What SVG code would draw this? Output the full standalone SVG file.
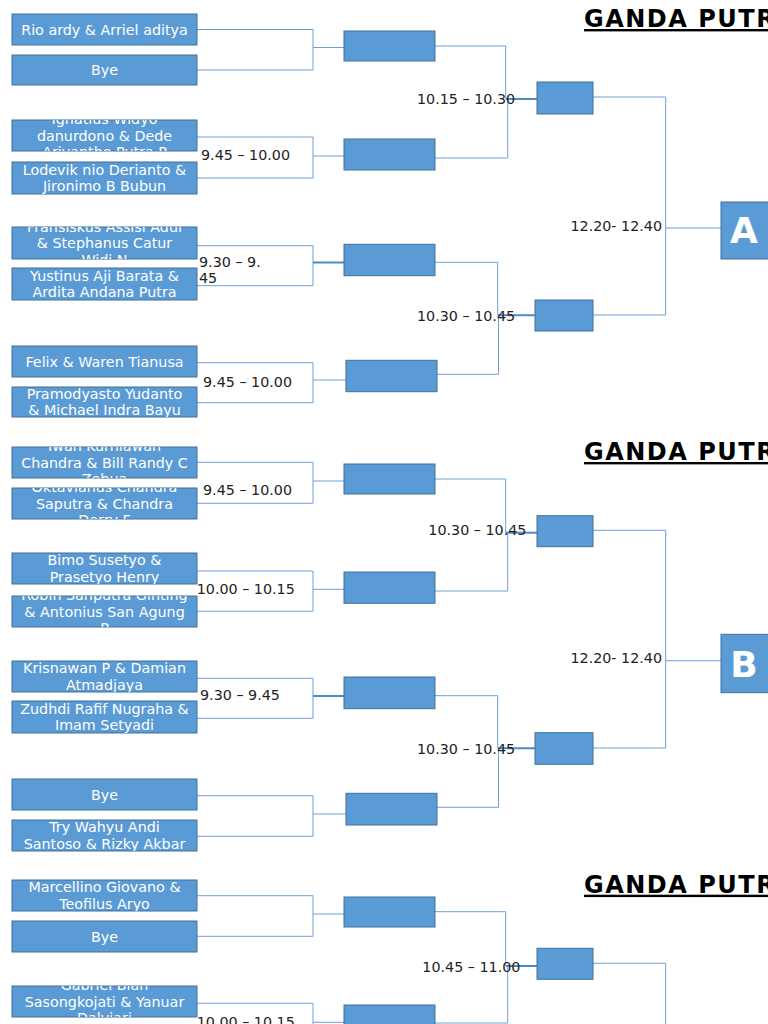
<svg xmlns="http://www.w3.org/2000/svg" width="768" height="1024" viewBox="0 0 768 1024">
<style>
.bg{fill:#ffffff}
.box{fill:#5b9bd5;stroke:#41719c;stroke-width:1}
.nm{font-family:"DejaVu Sans","Liberation Sans",sans-serif;font-size:14.3px;fill:#ffffff;text-anchor:middle}
.lbl{font-family:"DejaVu Sans","Liberation Sans",sans-serif;font-size:14.3px;fill:#222222}
.end{text-anchor:end}
.ttl{font-family:"DejaVu Sans","Liberation Sans",sans-serif;font-size:24px;font-weight:bold;fill:#000000;letter-spacing:1.5px;text-decoration:underline}
.big{font-family:"DejaVu Sans","Liberation Sans",sans-serif;font-size:36px;font-weight:bold;fill:#ffffff;text-anchor:middle}
.ln{fill:none;stroke:#6d9eda;stroke-width:1}
.lnb{fill:none;stroke:#4f88c8;stroke-width:2}
</style>
<defs>
<clipPath id="k1"><rect x="12" y="14" width="185" height="31"/></clipPath>
<clipPath id="k2"><rect x="12" y="55" width="185" height="30"/></clipPath>
<clipPath id="k3"><rect x="12" y="120" width="185" height="31"/></clipPath>
<clipPath id="k4"><rect x="12" y="162" width="185" height="32"/></clipPath>
<clipPath id="k5"><rect x="12" y="227" width="185" height="32"/></clipPath>
<clipPath id="k6"><rect x="12" y="268" width="185" height="32"/></clipPath>
<clipPath id="k7"><rect x="12" y="346" width="185" height="31"/></clipPath>
<clipPath id="k8"><rect x="12" y="387" width="185" height="30"/></clipPath>
<clipPath id="k9"><rect x="12" y="447" width="185" height="31"/></clipPath>
<clipPath id="k10"><rect x="12" y="488" width="185" height="31"/></clipPath>
<clipPath id="k11"><rect x="12" y="553" width="185" height="31"/></clipPath>
<clipPath id="k12"><rect x="12" y="596" width="185" height="31"/></clipPath>
<clipPath id="k13"><rect x="12" y="661" width="185" height="31"/></clipPath>
<clipPath id="k14"><rect x="12" y="701" width="185" height="32"/></clipPath>
<clipPath id="k15"><rect x="12" y="779" width="185" height="31"/></clipPath>
<clipPath id="k16"><rect x="12" y="820" width="185" height="31"/></clipPath>
<clipPath id="k17"><rect x="12" y="880" width="185" height="31"/></clipPath>
<clipPath id="k18"><rect x="12" y="921" width="185" height="31"/></clipPath>
<clipPath id="k19"><rect x="12" y="986" width="185" height="31"/></clipPath>
</defs>
<rect class="bg" x="0" y="0" width="768" height="1024"/>

<g id="connectors">
  <path class="ln" d="M197 29.5 H313 V70 H197 M313 47.5 H344"/>
  <path class="ln" d="M197 137 H313 V178 H197 M313 156 H344"/>
  <path class="ln" d="M197 245.7 H313 V285.7 H197"/>
  <path class="lnb" d="M313 262.5 H344"/>
  <path class="ln" d="M197 362.7 H313 V402.7 H197 M313 380 H346"/>
  <path class="ln" d="M435 46 H505.7 V99 M435 158 H507.7 V99"/>
  <path class="lnb" d="M506 99 H537"/>
  <path class="ln" d="M435 262.3 H497.7 V315 M437 374.3 H498.5 V315"/>
  <path class="lnb" d="M498 315.3 H535"/>
  <path class="ln" d="M593 97 H665.7 V315 H593 M665.7 228 H721"/>
  <path class="ln" d="M197 462.3 H313 V503.3 H197 M313 481 H344"/>
  <path class="ln" d="M197 571 H313 V611.3 H197 M313 589.3 H344"/>
  <path class="ln" d="M197 678.3 H313 V718.3 H197"/>
  <path class="lnb" d="M313 696 H344"/>
  <path class="ln" d="M197 795.7 H313 V836.3 H197 M313 814 H346"/>
  <path class="ln" d="M435 479 H505.7 V532.7 M435 591 H507.7 V532.7"/>
  <path class="lnb" d="M506 532.7 H537"/>
  <path class="ln" d="M435 695.7 H497.7 V748 M437 807.3 H498.5 V748"/>
  <path class="lnb" d="M498 748.3 H535"/>
  <path class="ln" d="M593 530.3 H665.7 V748 H593 M665.7 660.7 H721"/>
  <path class="ln" d="M197 895.7 H313 V936.3 H197 M313 914 H344"/>
  <path class="ln" d="M197 1003.3 H313 V1030 M313 1022.3 H344"/>
  <path class="ln" d="M435 911.7 H505.7 V966 M435 1023 H507.7 V966"/>
  <path class="lnb" d="M506 966 H537"/>
  <path class="ln" d="M593 963.3 H665.7 V1030"/>
</g>

<g id="labels">
  <text class="lbl" x="201" y="160">9.45 – 10.00</text>
  <text class="lbl" x="199" y="266.7">9.30 – 9.</text>
  <text class="lbl" x="199" y="283.3">45</text>
  <text class="lbl" x="203" y="386.7">9.45 – 10.00</text>
  <text class="lbl" x="417" y="104">10.15 – 10.30</text>
  <text class="lbl" x="417" y="321">10.30 – 10.45</text>
  <text class="lbl end" x="662" y="231">12.20- 12.40</text>
  <text class="lbl" x="203" y="495">9.45 – 10.00</text>
  <text class="lbl" x="196.7" y="594">10.00 – 10.15</text>
  <text class="lbl" x="200" y="700">9.30 – 9.45</text>
  <text class="lbl" x="428.3" y="535">10.30 – 10.45</text>
  <text class="lbl" x="417" y="754.3">10.30 – 10.45</text>
  <text class="lbl end" x="662" y="663.3">12.20- 12.40</text>
  <text class="lbl" x="422.3" y="971.7">10.45 – 11.00</text>
  <text class="lbl" x="196.7" y="1027">10.00 – 10.15</text>
</g>

<g id="titles">
  <text class="ttl" x="584" y="27">GANDA PUTRA</text>
  <text class="ttl" x="584" y="460">GANDA PUTRA</text>
  <text class="ttl" x="584" y="892.7">GANDA PUTRA</text>
</g>

<g id="p1"><rect class="box" x="12" y="14" width="185" height="31"/><g clip-path="url(#k1)"><text class="nm" x="104.5" y="34.5">Rio ardy &amp; Arriel aditya</text></g></g>
<g id="p2"><rect class="box" x="12" y="55" width="185" height="30"/><g clip-path="url(#k2)"><text class="nm" x="104.5" y="75">Bye</text></g></g>
<g id="p3"><rect class="box" x="12" y="120" width="185" height="31"/><g clip-path="url(#k3)"><text class="nm" x="104.5" y="124">Ignatius Widyo</text><text class="nm" x="104.5" y="140.5">danurdono &amp; Dede</text><text class="nm" x="104.5" y="157">Ariyantho Putra P</text></g></g>
<g id="p4"><rect class="box" x="12" y="162" width="185" height="32"/><g clip-path="url(#k4)"><text class="nm" x="104.5" y="174.75">Lodevik nio Derianto &amp;</text><text class="nm" x="104.5" y="191.25">Jironimo B Bubun</text></g></g>
<g id="p5"><rect class="box" x="12" y="227" width="185" height="32"/><g clip-path="url(#k5)"><text class="nm" x="104.5" y="231.5">Fransiskus Assisi Adul</text><text class="nm" x="104.5" y="248">&amp; Stephanus Catur</text><text class="nm" x="104.5" y="264.5">Widi N</text></g></g>
<g id="p6"><rect class="box" x="12" y="268" width="185" height="32"/><g clip-path="url(#k6)"><text class="nm" x="104.5" y="280.75">Yustinus Aji Barata &amp;</text><text class="nm" x="104.5" y="297.25">Ardita Andana Putra</text></g></g>
<g id="p7"><rect class="box" x="12" y="346" width="185" height="31"/><g clip-path="url(#k7)"><text class="nm" x="104.5" y="366.5">Felix &amp; Waren Tianusa</text></g></g>
<g id="p8"><rect class="box" x="12" y="387" width="185" height="30"/><g clip-path="url(#k8)"><text class="nm" x="104.5" y="398.75">Pramodyasto Yudanto</text><text class="nm" x="104.5" y="415.25">&amp; Michael Indra Bayu</text></g></g>

<g id="p9"><rect class="box" x="12" y="447" width="185" height="31"/><g clip-path="url(#k9)"><text class="nm" x="104.5" y="451">Iwan Kurniawan</text><text class="nm" x="104.5" y="467.5">Chandra &amp; Bill Randy C</text><text class="nm" x="104.5" y="484">Zebua</text></g></g>
<g id="p10"><rect class="box" x="12" y="488" width="185" height="31"/><g clip-path="url(#k10)"><text class="nm" x="104.5" y="492">Oktavianus Chandra</text><text class="nm" x="104.5" y="508.5">Saputra &amp; Chandra</text><text class="nm" x="104.5" y="525">Derry F</text></g></g>
<g id="p11"><rect class="box" x="12" y="553" width="185" height="31"/><g clip-path="url(#k11)"><text class="nm" x="104.5" y="565.25">Bimo Susetyo &amp;</text><text class="nm" x="104.5" y="581.75">Prasetyo Henry</text></g></g>
<g id="p12"><rect class="box" x="12" y="596" width="185" height="31"/><g clip-path="url(#k12)"><text class="nm" x="104.5" y="600">Robin Sanputra Ginting</text><text class="nm" x="104.5" y="616.5">&amp; Antonius San Agung</text><text class="nm" x="104.5" y="633">P</text></g></g>
<g id="p13"><rect class="box" x="12" y="661" width="185" height="31"/><g clip-path="url(#k13)"><text class="nm" x="104.5" y="673.25">Krisnawan P &amp; Damian</text><text class="nm" x="104.5" y="689.75">Atmadjaya</text></g></g>
<g id="p14"><rect class="box" x="12" y="701" width="185" height="32"/><g clip-path="url(#k14)"><text class="nm" x="104.5" y="713.75">Zudhdi Rafif Nugraha &amp;</text><text class="nm" x="104.5" y="730.25">Imam Setyadi</text></g></g>
<g id="p15"><rect class="box" x="12" y="779" width="185" height="31"/><g clip-path="url(#k15)"><text class="nm" x="104.5" y="799.5">Bye</text></g></g>
<g id="p16"><rect class="box" x="12" y="820" width="185" height="31"/><g clip-path="url(#k16)"><text class="nm" x="104.5" y="832.25">Try Wahyu Andi</text><text class="nm" x="104.5" y="848.75">Santoso &amp; Rizky Akbar</text></g></g>

<g id="p17"><rect class="box" x="12" y="880" width="185" height="31"/><g clip-path="url(#k17)"><text class="nm" x="104.5" y="892.25">Marcellino Giovano &amp;</text><text class="nm" x="104.5" y="908.75">Teofilus Aryo</text></g></g>
<g id="p18"><rect class="box" x="12" y="921" width="185" height="31"/><g clip-path="url(#k18)"><text class="nm" x="104.5" y="941.5">Bye</text></g></g>
<g id="p19"><rect class="box" x="12" y="986" width="185" height="31"/><g clip-path="url(#k19)"><text class="nm" x="104.5" y="990">Gabriel Bian</text><text class="nm" x="104.5" y="1006.5">Sasongkojati &amp; Yanuar</text><text class="nm" x="104.5" y="1023">Dalviari</text></g></g>

<g id="r2a1"><rect class="box" x="344" y="31" width="91" height="30"/></g>
<g id="r2a2"><rect class="box" x="344" y="139" width="91" height="31"/></g>
<g id="r2a3"><rect class="box" x="344" y="244.3" width="91" height="31.4"/></g>
<g id="r2a4"><rect class="box" x="346" y="360.3" width="91" height="31.4"/></g>
<g id="r2b1"><rect class="box" x="344" y="464" width="91" height="30"/></g>
<g id="r2b2"><rect class="box" x="344" y="572" width="91" height="31.3"/></g>
<g id="r2b3"><rect class="box" x="344" y="677" width="91" height="31.7"/></g>
<g id="r2b4"><rect class="box" x="346" y="793.3" width="91" height="31.7"/></g>
<g id="r2c1"><rect class="box" x="344" y="897" width="91" height="30"/></g>
<g id="r2c2"><rect class="box" x="344" y="1005" width="91" height="31"/></g>

<g id="r3a1"><rect class="box" x="537" y="82" width="56" height="32"/></g>
<g id="r3a2"><rect class="box" x="535" y="300" width="58" height="31"/></g>
<g id="r3b1"><rect class="box" x="537" y="515.7" width="56" height="31"/></g>
<g id="r3b2"><rect class="box" x="535" y="732.7" width="58" height="31.6"/></g>
<g id="r3c1"><rect class="box" x="537" y="948.3" width="56" height="31"/></g>

<g id="groupA"><rect class="box" x="721" y="202" width="60" height="57"/><text class="big" x="744" y="243.3">A</text></g>
<g id="groupB"><rect class="box" x="721" y="634.3" width="60" height="58.4"/><text class="big" x="744" y="676.7">B</text></g>
</svg>
